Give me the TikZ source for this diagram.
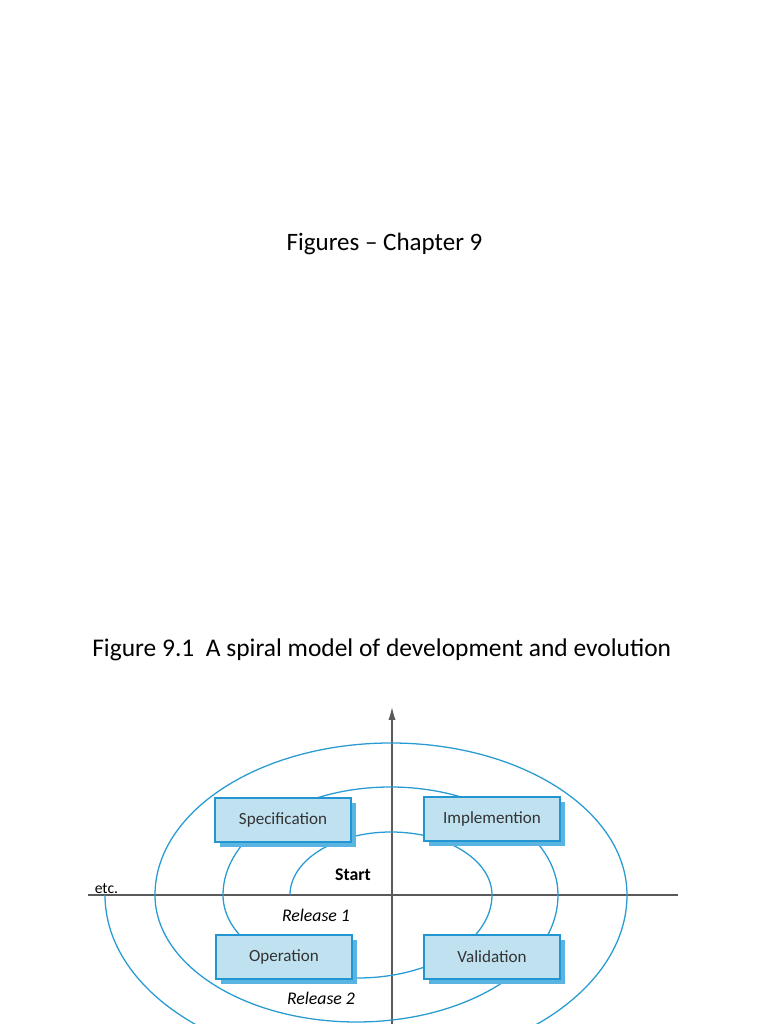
\documentclass[tikz,border=0pt]{standalone}
\usepackage{fontspec}
\setmainfont{Carlito}
\usetikzlibrary{arrows.meta,shadows}

\definecolor{spiralblue}{RGB}{40,155,210}
\definecolor{boxfill}{RGB}{192,226,240}
\definecolor{boxline}{RGB}{35,150,210}
\definecolor{boxshadow}{RGB}{90,180,225}
\definecolor{axisgray}{RGB}{90,90,90}

\tikzset{
  phase/.style={draw=boxline,line width=0.9pt,fill=boxfill,
    minimum width=95.6pt,minimum height=30.9pt,inner sep=0pt,
    font=\fontsize{12}{14}\selectfont,text=black!80,
    drop shadow={fill=boxshadow,opacity=1,shadow xshift=3.5pt,
      shadow yshift=-3.5pt}},
  spiral/.style={draw=spiralblue,line width=0.9pt},
  axis/.style={draw=axisgray,line width=0.9pt},
  marker/.style={font=\fontsize{12.5}{14}\selectfont,inner sep=0pt}
}

\begin{document}
\begin{tikzpicture}[x=0.703pt,y=0.703pt]
\useasboundingbox (0,0) rectangle (768,1024);
\node [font=\fontsize{17.6}{20}\selectfont,anchor=base,inner sep=0pt] (chapter)
    at (384.5,773) {Figures – Chapter 9};
\node [font=\fontsize{17.9}{20}\selectfont,anchor=base west,inner sep=0pt] (caption)
    at (92,367) {Figure 9.1\ \ A spiral model of development and evolution};
\coordinate (origin) at (392,129);
\coordinate (xleft) at (88,129);
\coordinate (xright) at (678,129);
\coordinate (ybottom) at (392,0);
\coordinate (ytop) at (392,317);
\draw [axis] (xleft) -- (xright);
\draw [axis,-{Latex[length=9pt,width=5pt]}] (ybottom) -- (ytop);
\coordinate (start) at (290,129);
\begin{scope}
\clip (0,0) rectangle (768,1024);
\draw [spiral] (start)
    arc [start angle=180,end angle=0,x radius=101,y radius=63]
    arc [start angle=0,end angle=-180,x radius=134.5,y radius=83]
    arc [start angle=180,end angle=0,x radius=167.5,y radius=108]
    arc [start angle=0,end angle=-180,x radius=201.5,y radius=127]
    arc [start angle=180,end angle=0,x radius=236,y radius=152]
    arc [start angle=0,end angle=-180,x radius=261,y radius=171]
    coordinate (last);
\end{scope}
\node [phase] (spec) at (283,204) {Specification};
\node [phase] (impl) at (492,205) {Implemention};
\node [phase] (oper) at (284,67) {Operation};
\node [phase] (valid) at (492,67) {Validation};
\node [marker,font=\fontsize{12.5}{14}\selectfont\bfseries] (startlabel)
    at (353,149) {Start};
\node [marker,font=\fontsize{12.5}{14}\selectfont\itshape] (rel1)
    at (316,109) {Release 1};
\node [marker,font=\fontsize{12.5}{14}\selectfont\itshape] (rel2)
    at (321,26) {Release 2};
\node [marker,font=\fontsize{11}{13}\selectfont,anchor=south] (etc)
    at ([yshift=1pt,xshift=1pt]last) {etc.};
\end{tikzpicture}
\end{document}
